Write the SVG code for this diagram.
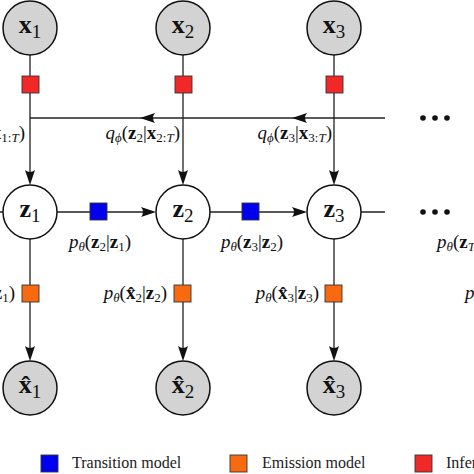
<svg xmlns="http://www.w3.org/2000/svg" width="474" height="474" viewBox="0 0 474 474">
<style>
.ln{stroke:#222;stroke-width:1.3;fill:none}
.obs{fill:#d3d3d3;stroke:#111;stroke-width:1.5}
.lat{fill:#fff;stroke:#111;stroke-width:1.5}
.sq{stroke:#333;stroke-width:0.9}
.red{fill:#f02828}
.blue{fill:#0000ee}
.org{fill:#f76a10}
.nl{font-family:"Liberation Serif",serif;font-size:26px;font-weight:bold;fill:#111}
.ns{font-weight:normal;font-size:19px}
.lb{font-family:"Liberation Serif",serif;font-size:19px;fill:#111}
.it{font-style:italic}
.b{font-weight:bold}
.s{font-size:13px}
.lg{font-family:"Liberation Serif",serif;font-size:16px;fill:#222}
.dot{fill:#111}
</style>
<defs>
<path id="ah" d="M0,0 L-15,-5 Q-11,0 -15,5 Z" fill="#111"/>
</defs>
<g id="connectors">
<path class="ln" d="M30,55 V178 M183,55 V178 M334,55 V178"/>
<path class="ln" d="M30,118 H385"/>
<path class="ln" d="M30,239 V355 M183,239 V355 M334,239 V355"/>
<path class="ln" d="M0,212 H3 M57,212 H150 M210,212 H301 M361,212 H385"/>
<use href="#ah" transform="translate(30,185) rotate(90)"/>
<use href="#ah" transform="translate(183,185) rotate(90)"/>
<use href="#ah" transform="translate(334,185) rotate(90)"/>
<use href="#ah" transform="translate(30,361) rotate(90)"/>
<use href="#ah" transform="translate(183,361) rotate(90)"/>
<use href="#ah" transform="translate(334,361) rotate(90)"/>
<use href="#ah" transform="translate(156,212)"/>
<use href="#ah" transform="translate(307,212)"/>
<use href="#ah" transform="translate(140,118) rotate(180)"/>
<use href="#ah" transform="translate(292,118) rotate(180)"/>
</g>
<g id="factors">
<rect class="sq red" x="22" y="76" width="17" height="17"/>
<rect class="sq red" x="175" y="76" width="17" height="17"/>
<rect class="sq red" x="326" y="76" width="17" height="17"/>
<rect class="sq blue" x="90" y="203" width="17" height="17"/>
<rect class="sq blue" x="242" y="203" width="17" height="17"/>
<rect class="sq org" x="22" y="285" width="17" height="17"/>
<rect class="sq org" x="174" y="285" width="17" height="17"/>
<rect class="sq org" x="325" y="285" width="17" height="17"/>
</g>
<g id="x1"><circle class="obs" cx="30" cy="28" r="27"/><text class="nl" x="30" y="33" text-anchor="middle">x<tspan class="ns" dy="5">1</tspan></text></g>
<g id="x2"><circle class="obs" cx="183" cy="28" r="27"/><text class="nl" x="183" y="33" text-anchor="middle">x<tspan class="ns" dy="5">2</tspan></text></g>
<g id="x3"><circle class="obs" cx="334" cy="28" r="27"/><text class="nl" x="334" y="33" text-anchor="middle">x<tspan class="ns" dy="5">3</tspan></text></g>
<g id="z1"><circle class="lat" cx="30" cy="212" r="27"/><text class="nl" x="30" y="217" text-anchor="middle">z<tspan class="ns" dy="5">1</tspan></text></g>
<g id="z2"><circle class="lat" cx="183" cy="212" r="27"/><text class="nl" x="183" y="217" text-anchor="middle">z<tspan class="ns" dy="5">2</tspan></text></g>
<g id="z3"><circle class="lat" cx="334" cy="212" r="27"/><text class="nl" x="334" y="217" text-anchor="middle">z<tspan class="ns" dy="5">3</tspan></text></g>
<g id="xh1"><circle class="obs" cx="30" cy="388" r="27"/><text class="nl" x="30" y="393" text-anchor="middle">x̂<tspan class="ns" dy="5">1</tspan></text></g>
<g id="xh2"><circle class="obs" cx="183" cy="388" r="27"/><text class="nl" x="183" y="393" text-anchor="middle">x̂<tspan class="ns" dy="5">2</tspan></text></g>
<g id="xh3"><circle class="obs" cx="334" cy="388" r="27"/><text class="nl" x="334" y="393" text-anchor="middle">x̂<tspan class="ns" dy="5">3</tspan></text></g>
<g id="dots">
<circle class="dot" cx="423" cy="118" r="2.8"/><circle class="dot" cx="435" cy="118" r="2.8"/><circle class="dot" cx="447" cy="118" r="2.8"/>
<circle class="dot" cx="423" cy="212" r="2.8"/><circle class="dot" cx="435" cy="212" r="2.8"/><circle class="dot" cx="447" cy="212" r="2.8"/>
</g>
<g id="labels">
<text class="lb" x="25" y="139" text-anchor="end"><tspan class="it">q</tspan><tspan class="s it" dy="3">ϕ</tspan><tspan dy="-3">(</tspan><tspan class="b">z</tspan><tspan class="s" dy="3">1</tspan><tspan dy="-3">|</tspan><tspan class="b">x</tspan><tspan class="s" dy="3">1:<tspan class="it">T</tspan></tspan><tspan dy="-3">)</tspan></text>
<text class="lb" x="180" y="139" text-anchor="end"><tspan class="it">q</tspan><tspan class="s it" dy="3">ϕ</tspan><tspan dy="-3">(</tspan><tspan class="b">z</tspan><tspan class="s" dy="3">2</tspan><tspan dy="-3">|</tspan><tspan class="b">x</tspan><tspan class="s" dy="3">2:<tspan class="it">T</tspan></tspan><tspan dy="-3">)</tspan></text>
<text class="lb" x="332" y="139" text-anchor="end"><tspan class="it">q</tspan><tspan class="s it" dy="3">ϕ</tspan><tspan dy="-3">(</tspan><tspan class="b">z</tspan><tspan class="s" dy="3">3</tspan><tspan dy="-3">|</tspan><tspan class="b">x</tspan><tspan class="s" dy="3">3:<tspan class="it">T</tspan></tspan><tspan dy="-3">)</tspan></text>
<text class="lb" x="100" y="248" text-anchor="middle"><tspan class="it">p</tspan><tspan class="s it" dy="3">θ</tspan><tspan dy="-3">(</tspan><tspan class="b">z</tspan><tspan class="s" dy="3">2</tspan><tspan dy="-3">|</tspan><tspan class="b">z</tspan><tspan class="s" dy="3">1</tspan><tspan dy="-3">)</tspan></text>
<text class="lb" x="252" y="248" text-anchor="middle"><tspan class="it">p</tspan><tspan class="s it" dy="3">θ</tspan><tspan dy="-3">(</tspan><tspan class="b">z</tspan><tspan class="s" dy="3">3</tspan><tspan dy="-3">|</tspan><tspan class="b">z</tspan><tspan class="s" dy="3">2</tspan><tspan dy="-3">)</tspan></text>
<text class="lb" x="437" y="248"><tspan class="it">p</tspan><tspan class="s it" dy="3">θ</tspan><tspan dy="-3">(</tspan><tspan class="b">z</tspan><tspan class="s it" dy="3">T</tspan><tspan dy="-3">|</tspan><tspan class="b">z</tspan><tspan class="s" dy="3"><tspan class="it">T</tspan>−1</tspan><tspan dy="-3">)</tspan></text>
<text class="lb" x="15" y="299" text-anchor="end"><tspan class="it">p</tspan><tspan class="s it" dy="3">θ</tspan><tspan dy="-3">(</tspan><tspan class="b">x̂</tspan><tspan class="s" dy="3">1</tspan><tspan dy="-3">|</tspan><tspan class="b">z</tspan><tspan class="s" dy="3">1</tspan><tspan dy="-3">)</tspan></text>
<text class="lb" x="167" y="299" text-anchor="end"><tspan class="it">p</tspan><tspan class="s it" dy="3">θ</tspan><tspan dy="-3">(</tspan><tspan class="b">x̂</tspan><tspan class="s" dy="3">2</tspan><tspan dy="-3">|</tspan><tspan class="b">z</tspan><tspan class="s" dy="3">2</tspan><tspan dy="-3">)</tspan></text>
<text class="lb" x="319" y="299" text-anchor="end"><tspan class="it">p</tspan><tspan class="s it" dy="3">θ</tspan><tspan dy="-3">(</tspan><tspan class="b">x̂</tspan><tspan class="s" dy="3">3</tspan><tspan dy="-3">|</tspan><tspan class="b">z</tspan><tspan class="s" dy="3">3</tspan><tspan dy="-3">)</tspan></text>
<text class="lb" x="465" y="299"><tspan class="it">p</tspan><tspan class="s it" dy="3">θ</tspan><tspan dy="-3">(</tspan><tspan class="b">x̂</tspan><tspan class="s it" dy="3">T</tspan><tspan dy="-3">|</tspan><tspan class="b">z</tspan><tspan class="s it" dy="3">T</tspan><tspan dy="-3">)</tspan></text>
</g>
<g id="legend">
<rect class="sq blue" x="41" y="455" width="17" height="17"/>
<text class="lg" x="72" y="468">Transition model</text>
<rect class="sq org" x="230" y="455" width="17" height="17"/>
<text class="lg" x="262" y="468">Emission model</text>
<rect class="sq red" x="415" y="455" width="17" height="17"/>
<text class="lg" x="446" y="468">Inference model</text>
</g>
</svg>
